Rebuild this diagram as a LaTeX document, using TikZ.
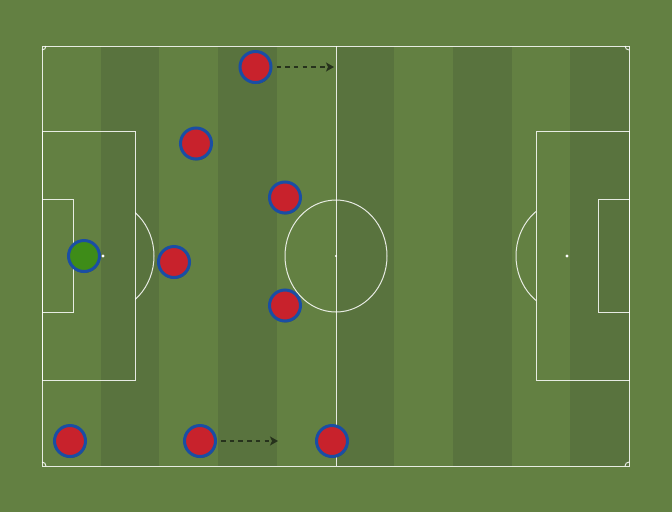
\documentclass[tikz,border=0pt]{standalone}
\usetikzlibrary{arrows.meta,shadows}
\definecolor{grass}{RGB}{99,128,66}
\definecolor{stripe}{RGB}{89,115,62}
\definecolor{shirt}{RGB}{200,34,44}
\definecolor{ring}{RGB}{26,78,164}
\definecolor{keeper}{RGB}{62,140,24}
\definecolor{run}{RGB}{38,50,28}
\tikzset{
  pline/.style={draw=white, draw opacity=0.85, line width=1pt},
  spot/.style={fill=white},
  player/.style={circle, minimum size=31pt, inner sep=0pt, fill=shirt, draw=ring, line width=3pt,
    drop shadow={shadow xshift=0.6pt, shadow yshift=-1.4pt, opacity=0.3, fill=black}},
  gk/.style={player, fill=keeper},
  runarrow/.style={draw=run, line width=2.8pt, dash pattern=on 4.5pt off 4.2pt, -{Stealth[length=8pt,width=9pt,inset=2pt]}}
}
\begin{document}
\begin{tikzpicture}[x=1pt,y=-1pt]
\useasboundingbox[fill=grass] (0,0) rectangle (672,512);
% stripes
\foreach \i in {1,3,5,7,9}{
  \fill[stripe] ({42+\i*58.7},46) rectangle ({42+(\i+1)*58.7},466);
}
% pitch markings
\draw[pline] (42,46) rectangle (629,466);
\draw[pline] (336,46) -- (336,466);
\draw[pline] (336,256) ellipse[x radius=51, y radius=56];
\fill[spot] (336,256) circle[radius=1.1];
% left
\draw[pline] (42,131) rectangle (135,380);
\draw[pline] (42,199) rectangle (73,312);
\fill[spot] (103,256) circle[radius=1.6];
\begin{scope}
  \clip (135,0) rectangle (300,512);
  \draw[pline] (103,256) ellipse[x radius=51, y radius=56];
\end{scope}
% right
\draw[pline] (536,131) rectangle (629,380);
\draw[pline] (598,199) rectangle (629,312);
\fill[spot] (567,256) circle[radius=1.6];
\begin{scope}
  \clip (370,0) rectangle (536,512);
  \draw[pline] (567,256) ellipse[x radius=51, y radius=56];
\end{scope}
% corner arcs
\draw[pline] (46,46) arc[start angle=0, end angle=90, radius=4];
\draw[pline] (625,46) arc[start angle=180, end angle=90, radius=4];
\draw[pline] (46,466) arc[start angle=0, end angle=-90, radius=4];
\draw[pline] (625,466) arc[start angle=180, end angle=270, radius=4];
% players
\node[player] (p1) at (255.5,67) {};
\node[player] (p2) at (196,143.5) {};
\node[player] (p3) at (285,197.5) {};
\node[player] (p4) at (174,262) {};
\node[player] (p5) at (285,305.5) {};
\node[gk]     (gk) at (84,256) {};
\node[player] (p6) at (70,441) {};
\node[player] (p7) at (200,441) {};
\node[player] (p8) at (332,441) {};
% runs
\coordinate (r1) at (334,67);
\coordinate (r2) at (278,441);
\draw[runarrow, shorten <=4pt] (p1.east) -- (r1);
\draw[runarrow, shorten <=4pt] (p7.east) -- (r2);
\end{tikzpicture}
\end{document}
